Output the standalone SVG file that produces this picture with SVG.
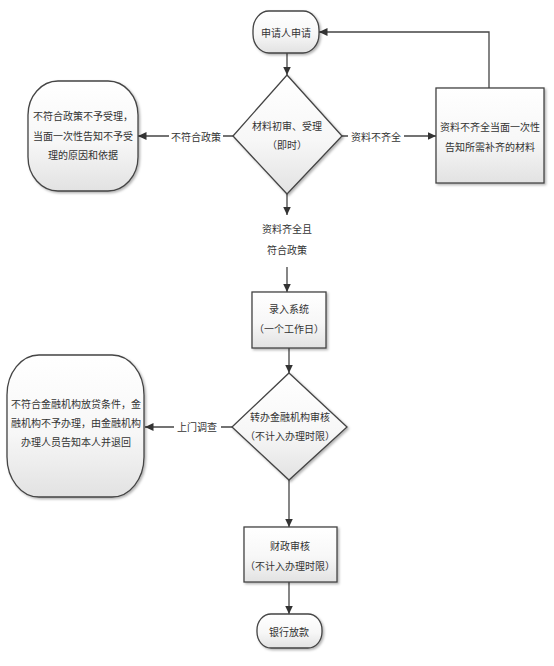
<svg xmlns="http://www.w3.org/2000/svg" width="554" height="666" viewBox="0 0 554 666">
<defs>
<linearGradient id="g" x1="0" y1="0" x2="0" y2="1">
<stop offset="0" stop-color="#ffffff"/>
<stop offset="0.55" stop-color="#f7f7f7"/>
<stop offset="1" stop-color="#e2e2e2"/>
</linearGradient>
<filter id="sh" x="-10%" y="-10%" width="130%" height="130%">
<feDropShadow dx="1.5" dy="1.5" stdDeviation="1" flood-color="#000" flood-opacity="0.3"/>
</filter>
<marker id="ah" markerUnits="userSpaceOnUse" markerWidth="9" markerHeight="8" refX="8.5" refY="4" orient="auto">
<path d="M0,0 L8.5,4 L0,8 Z" fill="#333"/>
</marker>
</defs>
<style>
.n{fill:url(#g);stroke:#444;stroke-width:1.3;filter:url(#sh)}
.t{font-family:"Noto Sans CJK SC","Noto Sans CJK JP",sans-serif;font-size:10px;fill:#333;text-anchor:middle;dominant-baseline:central}
.c{fill:none;stroke:#444;stroke-width:1.3}
.bg{fill:#fff}
</style>
<rect width="554" height="666" fill="#fff"/>
<g id="connectors">
<path class="c" d="M287,53 V75" marker-end="url(#ah)"/>
<path class="c" d="M233,136 H138" marker-end="url(#ah)"/>
<path class="c" d="M342,136 H436" marker-end="url(#ah)"/>
<path class="c" d="M489,88 V32 H319" marker-end="url(#ah)"/>
<path class="c" d="M287,194 V215" marker-end="url(#ah)"/>
<path class="c" d="M287,267 V292" marker-end="url(#ah)"/>
<path class="c" d="M289,348 V373" marker-end="url(#ah)"/>
<path class="c" d="M232,427 H145" marker-end="url(#ah)"/>
<path class="c" d="M289,480 V527" marker-end="url(#ah)"/>
<path class="c" d="M289,582 V614" marker-end="url(#ah)"/>
</g>
<g id="labels">
<rect class="bg" x="169" y="128" width="54" height="16"/>
<text class="t" x="196" y="136">不符合政策</text>
<rect class="bg" x="348" y="128" width="56" height="16"/>
<text class="t" x="376" y="136">资料不齐全</text>
<text class="t" x="287" y="228">资料齐全且</text>
<text class="t" x="287" y="249">符合政策</text>
<rect class="bg" x="174" y="419" width="47" height="16"/>
<text class="t" x="197" y="426">上门调查</text>
</g>
<g id="start">
<rect class="n" x="253" y="11" width="66" height="42" rx="16" ry="19"/>
<text class="t" x="286" y="32">申请人申请</text>
</g>
<g id="review1">
<path class="n" d="M287,75 L342,136 L287,194 L233,136 Z"/>
<text class="t" x="287" y="125">材料初审、受理</text>
<text class="t" x="287" y="144">（即时）</text>
</g>
<g id="reject1">
<rect class="n" x="28" y="81" width="110" height="110" rx="30" ry="34"/>
<text class="t" x="83" y="115">不符合政策不予受理，</text>
<text class="t" x="83" y="135">当面一次性告知不予受</text>
<text class="t" x="83" y="154">理的原因和依据</text>
</g>
<g id="incomplete">
<rect class="n" x="436" y="88" width="108" height="95"/>
<text class="t" x="490" y="126">资料不齐全当面一次性</text>
<text class="t" x="490" y="146">告知所需补齐的材料</text>
</g>
<g id="entry">
<rect class="n" x="252" y="292" width="74" height="56"/>
<text class="t" x="289" y="308">录入系统</text>
<text class="t" x="289" y="328">（一个工作日）</text>
</g>
<g id="review2">
<path class="n" d="M289,373 L347,427 L289,480 L232,427 Z"/>
<text class="t" x="290" y="416">转办金融机构审核</text>
<text class="t" x="290" y="435">（不计入办理时限）</text>
</g>
<g id="reject2">
<rect class="n" x="7" y="355" width="137" height="142" rx="32" ry="40"/>
<text class="t" x="76" y="403">不符合金融机构放贷条件，金</text>
<text class="t" x="76" y="422">融机构不予办理，由金融机构</text>
<text class="t" x="76" y="441">办理人员告知本人并退回</text>
</g>
<g id="finance">
<rect class="n" x="244" y="527" width="93" height="55"/>
<text class="t" x="290" y="545">财政审核</text>
<text class="t" x="290" y="565">（不计入办理时限）</text>
</g>
<g id="end">
<rect class="n" x="257" y="614" width="65" height="34" rx="14" ry="16"/>
<text class="t" x="289" y="631">银行放款</text>
</g>
</svg>
